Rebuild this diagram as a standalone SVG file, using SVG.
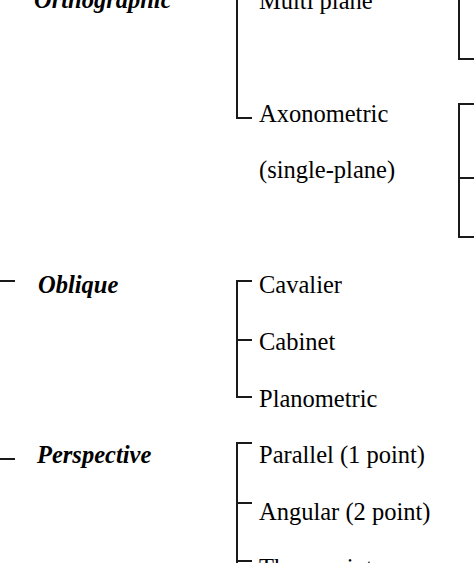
<svg xmlns="http://www.w3.org/2000/svg" width="474" height="563" viewBox="0 0 474 563">
<style>
.main{font-family:"Liberation Serif","Times New Roman",serif;font-size:24.5px;font-weight:bold;font-style:italic;fill:#000}
.sub{font-family:"Liberation Serif","Times New Roman",serif;font-size:24.5px;fill:#000}
.ln{fill:none;stroke:#1a1a1a;stroke-width:2}
</style>
<rect width="474" height="563" fill="#fff"/>
<g id="connectors">
<path class="ln" d="M0,-3 H15"/>
<path class="ln" d="M0,281 H15"/>
<path class="ln" d="M0,459 H15"/>
<path class="ln" d="M252,-2 H237 V118 H252"/>
<path class="ln" d="M474,-5 H459 V59 H474"/>
<path class="ln" d="M474,104 H459 V237 H474 M459,178 H474"/>
<path class="ln" d="M252,281 H237 V397 H252 M237,340 H252"/>
<path class="ln" d="M252,443 H237 V570 M237,503 H252 M237,561 H252"/>
</g>
<g id="orthographic"><text class="main" x="34" y="8">Orthographic</text></g>
<g id="oblique"><text class="main" x="38" y="293">Oblique</text></g>
<g id="perspective"><text class="main" x="37" y="463">Perspective</text></g>
<g id="multiplane"><text class="sub" x="259" y="9">Multi plane</text></g>
<g id="axonometric"><text class="sub" x="259" y="122">Axonometric</text><text class="sub" x="259" y="178">(single-plane)</text></g>
<g id="cavalier"><text class="sub" x="259" y="293">Cavalier</text></g>
<g id="cabinet"><text class="sub" x="259" y="350">Cabinet</text></g>
<g id="planometric"><text class="sub" x="259" y="407">Planometric</text></g>
<g id="parallel"><text class="sub" x="259" y="463">Parallel (1 point)</text></g>
<g id="angular"><text class="sub" x="259" y="520">Angular (2 point)</text></g>
<g id="three"><text class="sub" x="259" y="576">Three point</text></g>
</svg>
